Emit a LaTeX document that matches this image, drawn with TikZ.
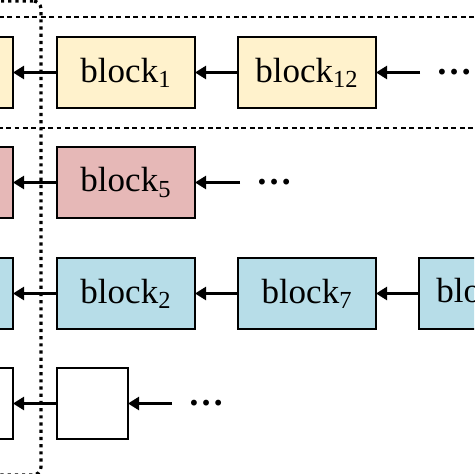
\documentclass[tikz,border=0pt]{standalone}
\usepackage{fontspec}
\setmainfont{Liberation Serif}
\usetikzlibrary{arrows.meta,positioning,fit}
\definecolor{chainyellow}{HTML}{FFF2CC}
\definecolor{chainpink}{HTML}{E6B8B7}
\definecolor{chainblue}{HTML}{B7DDE8}

\begin{document}
\begin{tikzpicture}[x=0.5pt,y=-0.5pt,
  blk/.style={draw=black,line width=1.3pt,minimum width=69pt,minimum height=35.5pt,
              inner sep=0pt,outer sep=0pt,font=\fontsize{17.5}{21}\selectfont},
  emptyblk/.style={blk,minimum width=35.5pt},
  more/.style={inner xsep=8pt,inner ysep=0pt,outer sep=0pt,
               font=\fontsize{18}{21}\selectfont\bfseries},
  arr/.style={-{Triangle[length=5.5pt,width=6.5pt]},line width=1.2pt},
  grp/.style={draw,line width=1.3pt,dash pattern=on 2.4pt off 1.8pt},
  lead/.style={draw,line width=1.6pt,dash pattern=on 1.6pt off 2pt,rounded corners=4pt}]
  \useasboundingbox (0,0) rectangle (474,474);
  \clip (0,0) rectangle (474,474);
  % row 1
  \node[blk,fill=chainyellow] (b1) at (126,72.5) {block\textsubscript{1}};
  \node[blk,fill=chainyellow,left=22pt of b1] (lp1) {};
  \node[blk,fill=chainyellow,right=21.5pt of b1] (b12) {block\textsubscript{12}};
  \node[more,right=22pt of b12] (m1) {…};
  % row 2
  \node[blk,fill=chainpink,below=19.5pt of b1] (b5) {block\textsubscript{5}};
  \node[blk,fill=chainpink,left=22pt of b5] (lp2) {};
  \node[more,right=22.5pt of b5] (m2) {…};
  % row 3
  \node[blk,fill=chainblue,below=20pt of b5] (b2) {block\textsubscript{2}};
  \node[blk,fill=chainblue,left=22pt of b2] (lp3) {};
  \node[blk,fill=chainblue,right=21.5pt of b2] (b7) {block\textsubscript{7}};
  \node[blk,fill=chainblue,right=21.5pt of b7] (bx) {block\textsubscript{\phantom{00}}};
  % row 4
  \node[emptyblk,fill=white,below=19.5pt of b2.south west,anchor=north west] (e1) {};
  \node[blk,fill=white,left=22pt of e1] (lp4) {};
  \node[more,right=22pt of e1] (m4) {…};

  \draw[arr] (b1) -- (lp1);
  \draw[arr] (b12) -- (b1);
  \draw[arr] (m1) -- (b12);
  \draw[arr] (b5) -- (lp2);
  \draw[arr] (m2) -- (b5);
  \draw[arr] (b2) -- (lp3);
  \draw[arr] (b7) -- (b2);
  \draw[arr] (bx) -- (b7);
  \draw[arr] (e1) -- (lp4);
  \draw[arr] (m4) -- (e1);

  % frames
  \node[grp,fit=(lp1)(m1),inner xsep=10pt,inner ysep=10pt] (row1) {};
  \node[lead,fit=(lp1)(lp4),inner xsep=14pt,inner ysep=18pt] (col1) {};
\end{tikzpicture}
\end{document}
